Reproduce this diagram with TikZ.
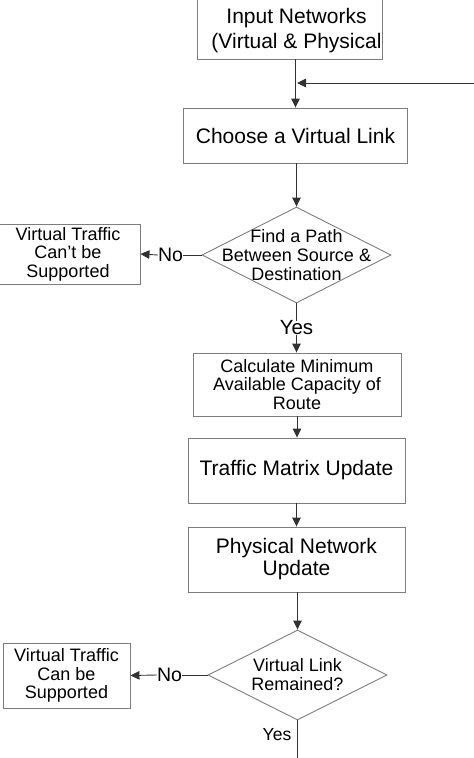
\documentclass[tikz,border=0pt]{standalone}
\usepackage{fontspec}
\setmainfont{Liberation Sans}
\usetikzlibrary{shapes.geometric,arrows.meta}
\definecolor{bordergray}{RGB}{125,125,125}
\definecolor{linegray}{RGB}{50,50,50}
\begin{document}
\begin{tikzpicture}[x=1pt,y=-1pt,
  box/.style={draw=bordergray,line width=0.9pt,rectangle,inner sep=0pt,align=center},
  dia/.style={draw=bordergray,line width=0.9pt,diamond,inner sep=0pt},
  big/.style={font=\fontsize{21}{25}\selectfont},
  small/.style={font=\fontsize{18}{18.6}\selectfont},
  lbl/.style={inner sep=0pt,align=center},
  conn/.style={draw=linegray,line width=0.9pt},
  arr/.style={conn,-{Triangle[length=9pt,width=8.5pt]}}]
\useasboundingbox (0,0) rectangle (474,758);

% boxes
\node[box,minimum width=185pt,minimum height=90pt] (inp) at (289.5,14) {};
\node[lbl,font=\fontsize{21}{25}\selectfont] (inpt) at (296.5,31) {Input Networks\\(Virtual \& Physical};
\node[box,big,minimum width=224pt,minimum height=55pt] (choose) at (295.5,135.5) {Choose a Virtual Link};
\node[dia,minimum width=189pt,minimum height=96pt] (d1) at (296.5,255) {};
\node[lbl,font=\fontsize{18}{19}\selectfont] (d1t) at (296.5,255) {Find a Path\\Between Source \&\\Destination};
\node[box,small,minimum width=144pt,minimum height=60pt] (cant) at (68,254) {Virtual Traffic\\Can't be\\Supported};
\node[lbl,font=\fontsize{19.5}{20}\selectfont] (no1) at (170.5,255) {No};
\node[lbl,font=\fontsize{20.5}{21}\selectfont] (yes1) at (296.5,328) {Yes};
\node[box,small,minimum width=208pt,minimum height=63pt] (calc) at (297,384.5) {Calculate Minimum\\Available Capacity of\\Route};
\node[box,big,minimum width=217pt,minimum height=65pt] (traffic) at (296.5,470.5) {Traffic Matrix Update};
\node[box,font=\fontsize{21}{22}\selectfont,minimum width=217pt,minimum height=65pt] (phys) at (296.5,559.5) {Physical Network\\Update};
\node[dia,minimum width=179pt,minimum height=90pt] (d2) at (297.5,675) {};
\node[lbl,font=\fontsize{18}{19}\selectfont] (d2t) at (297.5,675) {Virtual Link\\Remained?};
\node[box,small,minimum width=127pt,minimum height=65pt] (can) at (66.5,675.5) {Virtual Traffic\\Can be\\Supported};
\node[lbl,font=\fontsize{19.5}{20}\selectfont] (no2) at (169.5,675) {No};
\node[lbl,font=\fontsize{17.5}{18}\selectfont] (yes2) at (277,735) {Yes};

% free ends of the loop
\coordinate (loopin) at (474,83);
\coordinate (merge) at (297,83);
\coordinate (loopout) at (297.5,760);

% connectors
\draw[arr] (choose.north |- inp.south) -- (choose.north);
\draw[arr] (loopin) -- (merge);
\draw[arr] (choose.south -| d1.north) -- (d1.north);
\draw[conn] (d1.west) -- (no1.east);
\draw[arr] (no1.west) -- (cant.east);
\draw[conn] (d1.south) -- (yes1.north);
\draw[arr] (yes1.south) -- (calc.north -| yes1.south);
\draw[arr] (calc.south) -- (traffic.north -| calc.south);
\draw[arr] (traffic.south) -- (phys.north);
\draw[arr] (phys.south -| d2.north) -- (d2.north);
\draw[conn] (d2.west) -- (no2.east);
\draw[arr] (no2.west) -- (can.east);
\draw[conn] (d2.south) -- (loopout);
\end{tikzpicture}
\end{document}
